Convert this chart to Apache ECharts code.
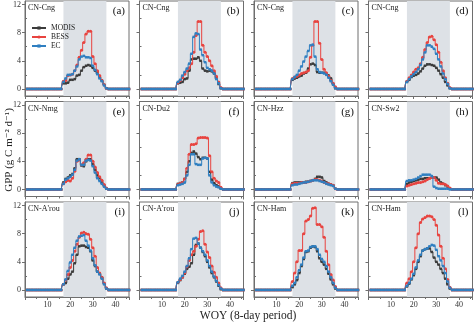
<!DOCTYPE html>
<html>
<head>
<meta charset="utf-8">
<script src="https://cdn.jsdelivr.net/npm/echarts@6/dist/echarts.min.js"></script>
<style>
  html, body { margin: 0; padding: 0; background: #fff; }
  #chart { width: 474px; height: 323px; }
</style>
</head>
<body>
<div id="chart"></div>
<script>
// Week of year (8-day periods)
const weeks = [1,2,3,4,5,6,7,8,9,10,11,12,13,14,15,16,17,18,19,20,21,22,23,24,25,26,27,28,29,30,31,32,33,34,35,36,37,38,39,40,41,42,43,44,45,46];
// Off-season GPP (weeks 1-16 and 37-46)
const offBefore = [0,0,0,0,0,0,0,0,0,0,0,0,0,0,0,0];
const offAfter = [0,0,0,0,0,0,0,0,0,0];
// Growing season window (shaded)
const seasonStart = 17;
const seasonEnd = 36;

const sites = ['CN-Cng','CN-Cng','CN-Cng','CN-Cng','CN-Nmg','CN-Du2','CN-Hzz','CN-Sw2',"CN-A'rou","CN-A'rou",'CN-Ham','CN-Ham'];
const years = ['2007','2008','2009','2010','2004','2008','2014','2011','2014','2015','2002','2003'];
const letters = ['(a)','(b)','(c)','(d)','(e)','(f)','(g)','(h)','(i)','(j)','(k)','(l)'];
const yTicks = [0,4,8,12];
const yMinorTicks = [2,6,10];
const xLabels = [10,20,30,40];

// Growing-season GPP, weeks 17-36
const modisA = [0.8,0.8,0.9,1.3,1.3,1.4,1.9,2.0,2.6,3.1,3.3,3.4,3.3,3.0,2.6,2.2,1.7,1.2,0.6,0.1];
const bessA  = [1.1,1.2,1.9,2.0,2.1,2.6,3.4,4.5,5.5,6.6,7.8,8.2,8.2,4.6,3.6,2.6,1.9,1.2,0.6,0.1];
const ecA    = [1.0,1.5,2.0,2.0,2.1,2.6,3.2,4.2,4.6,4.7,4.5,4.5,4.4,3.3,2.7,2.1,1.5,1.1,0.5,0.1];

const modisB = [0.8,0.9,1.0,1.4,1.5,2.6,4.2,4.3,4.3,4.5,4.0,2.9,2.6,2.5,2.6,2.5,2.2,1.5,0.7,0.1];
const bessB  = [0.9,1.2,1.6,2.1,2.6,3.0,3.6,5.2,7.6,9.6,9.6,6.2,5.2,4.6,4.0,3.3,2.6,1.8,1.0,0.2];
const ecB    = [1.0,1.3,1.9,2.4,2.9,3.6,5.0,7.4,7.9,7.8,5.6,4.8,3.8,3.0,2.8,2.6,2.2,1.4,0.8,0.1];

const modisC = [1.3,1.5,1.6,1.8,1.9,2.2,2.3,2.9,3.5,3.6,3.4,2.4,2.3,2.3,2.3,2.1,1.9,1.5,0.7,0.1];
const bessC  = [1.5,1.7,1.8,2.0,2.2,2.3,2.4,2.6,4.5,6.2,9.6,9.6,6.5,4.2,2.8,2.3,1.8,1.2,0.8,0.3];
const ecC    = [1.4,1.7,2.0,2.6,3.2,3.9,4.6,5.4,6.2,6.3,4.6,2.8,2.4,2.3,2.2,2.0,1.6,1.1,0.6,0.1];

const modisD = [1.0,1.3,1.7,1.9,2.0,2.2,2.5,2.9,3.3,3.5,3.5,3.4,3.3,3.0,2.6,2.1,1.6,1.0,0.5,0.1];
const bessD  = [1.1,1.6,2.0,2.4,2.8,3.0,3.6,4.5,5.6,6.6,7.4,7.5,7.0,6.3,5.2,3.8,2.6,1.6,0.8,0.2];
const ecD    = [1.0,1.4,1.8,2.1,2.4,2.8,3.4,4.2,5.2,6.2,6.2,6.0,5.7,5.0,4.2,3.2,2.2,1.4,0.7,0.1];

const modisE = [1.0,1.5,1.7,2.0,2.2,3.0,4.3,4.3,3.4,3.3,4.0,4.3,4.3,3.6,2.8,2.0,1.6,1.0,0.5,0.1];
const bessE  = [0.8,1.1,1.3,1.2,1.6,2.6,4.0,4.2,3.5,3.8,4.3,4.9,4.9,4.0,3.2,2.4,1.8,1.3,0.7,0.2];
const ecE    = [0.8,1.4,1.6,1.8,2.1,2.8,4.1,4.3,3.5,3.5,4.1,4.2,4.1,3.3,2.4,1.6,1.2,0.8,0.4,0.1];

const modisF = [0.8,0.9,1.0,1.5,2.5,4.0,5.2,5.4,5.1,4.6,4.3,4.5,4.5,4.4,2.5,1.4,0.9,0.6,0.4,0.1];
const bessF  = [0.7,0.9,1.0,1.5,3.0,5.0,6.4,6.4,6.5,7.3,7.4,7.4,7.4,7.3,4.8,2.5,1.6,1.2,1.0,0.3];
const ecF    = [0.6,0.7,0.8,1.0,2.0,3.5,5.0,5.0,3.6,3.5,3.5,4.4,4.5,4.4,2.0,1.0,0.6,0.4,0.3,0.1];

const modisG = [0.9,1.0,1.0,1.0,1.0,1.0,1.1,1.1,1.2,1.3,1.5,1.8,1.8,1.7,1.2,1.0,0.8,0.7,0.6,0.1];
const bessG  = [0.8,0.9,0.9,0.9,1.0,1.0,1.0,1.1,1.2,1.3,1.4,1.4,1.3,1.2,1.0,0.9,0.8,0.7,0.6,0.1];
const ecG    = [0.6,0.7,0.7,0.8,0.9,1.0,1.0,1.1,1.2,1.3,1.3,1.3,1.2,1.1,1.0,0.8,0.7,0.6,0.5,0.1];

const modisH = [0.8,1.0,1.1,1.2,1.3,1.4,1.5,1.5,1.6,1.6,1.6,1.7,1.7,1.7,1.4,1.0,0.8,0.6,0.4,0.1];
const bessH  = [0.5,0.6,0.7,0.8,0.9,1.0,1.0,1.1,1.2,1.4,1.6,1.7,1.7,1.3,0.9,0.8,0.8,0.7,0.5,0.2];
const ecH    = [1.2,1.3,1.3,1.4,1.5,1.7,1.9,2.1,2.1,2.1,2.1,1.9,0.4,0.2,0.1,0.1,0.1,0.1,0.1,0.0];

const modisI = [0.8,1.0,1.6,2.2,2.6,3.8,5.0,6.2,6.3,6.3,6.1,6.0,5.5,4.2,3.4,2.6,2.3,1.8,0.9,0.2];
const bessI  = [0.8,1.4,2.2,3.2,4.2,5.5,6.5,7.5,8.1,8.2,8.0,7.9,7.2,6.0,4.8,3.2,2.4,1.8,1.0,0.3];
const ecI    = [0.8,1.5,2.7,3.9,5.0,6.0,7.0,7.6,7.7,7.8,7.0,6.3,5.6,4.5,3.5,2.6,2.2,1.6,0.8,0.2];

const modisJ = [1.0,1.4,1.8,2.3,3.0,3.3,3.8,5.0,6.4,6.6,6.0,5.4,4.8,4.0,3.2,2.4,1.8,1.2,0.6,0.1];
const bessJ  = [1.1,1.5,1.8,2.4,3.3,4.2,5.0,5.5,6.2,7.2,8.3,8.4,6.5,5.4,4.6,3.4,2.5,1.8,1.0,0.3];
const ecJ    = [1.1,1.6,2.0,2.6,3.4,4.5,5.8,7.3,7.4,6.6,6.0,5.5,5.0,4.2,3.4,2.6,1.9,1.3,0.7,0.2];

const modisK = [0.4,0.8,1.4,2.4,3.4,4.4,5.4,5.5,6.0,6.2,6.1,5.5,4.5,4.0,3.6,3.0,2.3,1.5,0.8,0.2];
const bessK  = [1.2,2.4,4.0,5.6,5.6,8.0,9.8,10.0,10.5,11.6,11.7,9.3,9.3,9.0,7.5,5.5,3.6,2.2,1.4,0.5];
const ecK    = [0.6,1.0,1.8,2.8,3.6,4.6,5.5,5.6,6.1,6.2,6.2,5.8,5.0,4.4,4.0,3.4,2.6,1.8,1.0,0.3];

const modisL = [0.5,0.9,1.5,2.1,3.0,4.0,4.8,5.6,5.8,5.9,5.9,5.4,4.6,4.0,3.6,3.0,2.4,1.6,0.8,0.2];
const bessL  = [1.0,1.6,2.6,4.0,6.0,8.0,9.6,10.1,10.3,10.5,10.5,10.4,10.0,9.2,7.8,6.2,4.5,3.0,1.5,0.4];
const ecL    = [0.6,1.0,1.6,2.3,3.2,4.2,5.0,5.6,5.8,5.9,6.2,6.4,6.3,5.7,4.8,4.2,3.4,2.4,1.2,0.3];

const panels = [
  [modisA, bessA, ecA], [modisB, bessB, ecB], [modisC, bessC, ecC], [modisD, bessD, ecD],
  [modisE, bessE, ecE], [modisF, bessF, ecF], [modisG, bessG, ecG], [modisH, bessH, ecH],
  [modisI, bessI, ecI], [modisJ, bessJ, ecJ], [modisK, bessK, ecK], [modisL, bessL, ecL]
];

const products = ['MODIS', 'BESS', 'EC'];
const colors = ['#3b3b3b', '#e8433f', '#2f7fc1'];
const symbols = ['rect', 'circle', 'rect'];

const serif = '"Liberation Serif", "DejaVu Serif", serif';
const frame = '#6e6e6e';

// Panel layout
const colLeft = [25, 139.5, 254, 368.5];
const rowTop = [1, 101.5, 202];
const panelW = 104;
const panelH = 95;
const yMin = -1, yMax = 12.5;

function fullYear(season) {
  const vals = offBefore.concat(season, offAfter);
  return weeks.map((w, k) => [w, vals[k]]);
}

const grid = [], xAxis = [], yAxis = [], series = [];
panels.forEach((p, i) => {
  const r = Math.floor(i / 4), c = i % 4;
  grid.push({
    left: colLeft[c], top: rowTop[r], width: panelW, height: panelH,
    show: true, borderColor: frame, borderWidth: 1, backgroundColor: 'transparent'
  });
  xAxis.push({
    gridIndex: i, type: 'value', min: 0, max: 46, interval: 10,
    axisLine: { show: true, onZero: false, lineStyle: { color: frame, width: 1 } },
    axisTick: { show: true, length: 3, lineStyle: { color: frame } },
    minorTick: { show: true, splitNumber: 2, length: 2, lineStyle: { color: frame } },
    axisLabel: {
      show: r === 2, customValues: xLabels, fontFamily: serif, fontSize: 8, color: '#333', margin: 4
    },
    splitLine: { show: false }, minorSplitLine: { show: false }
  });
  yAxis.push({
    gridIndex: i, type: 'value', min: yMin, max: yMax,
    axisLine: { show: true, onZero: false, lineStyle: { color: frame, width: 1 } },
    axisTick: { show: true, customValues: yTicks, length: 3, lineStyle: { color: frame } },
    axisLabel: {
      show: c === 0, customValues: yTicks, fontFamily: serif, fontSize: 8, color: '#333', margin: 4
    },
    splitLine: { show: false }
  });
  yAxis.push({
    gridIndex: i, type: 'value', min: yMin, max: yMax,
    axisLine: { show: false },
    axisTick: { show: true, customValues: yMinorTicks, length: 2, lineStyle: { color: frame } },
    axisLabel: { show: false },
    splitLine: { show: false }
  });
  p.forEach((vals, k) => {
    const s = {
      name: products[k], type: 'line', xAxisIndex: i, yAxisIndex: 2 * i,
      data: fullYear(vals), step: 'middle',
      symbol: symbols[k], symbolSize: k === 1 ? 3 : 2.5, showSymbol: true,
      lineStyle: { color: colors[k], width: 1 },
      itemStyle: { color: colors[k] },
      animation: false, silent: true, z: 3 + k
    };
    if (k === 0) {
      s.markArea = {
        silent: true,
        itemStyle: { color: '#dde1e6' },
        data: [[{ xAxis: seasonStart }, { xAxis: seasonEnd }]]
      };
    }
    series.push(s);
  });
});

const chart = echarts.init(document.getElementById('chart'), null, { renderer: 'canvas' });
chart.setOption({
  animation: false,
  backgroundColor: '#fff',
  grid, xAxis, yAxis, series,
  legend: {
    data: products,
    orient: 'vertical', left: 26, top: 19,
    itemWidth: 14, itemHeight: 4, itemGap: 1,
    itemStyle: { borderWidth: 0 },
    textStyle: { fontFamily: serif, fontSize: 7.5, color: '#222', lineHeight: 8 },
    selectedMode: false
  }
});

// Panel annotations: site, panel letter, year
const graphic = [];
panels.forEach((p, i) => {
  const r = Math.floor(i / 4), c = i % 4;
  const L = colLeft[c], T = rowTop[r];
  graphic.push({
    type: 'text', left: L + 3, top: T + 3, silent: true,
    style: { text: sites[i], font: '8px ' + serif, fill: '#222' }
  });
  graphic.push({
    type: 'text', right: 474 - (L + panelW) + 4, top: T + 5, silent: true,
    style: { text: letters[i], font: '11px ' + serif, fill: '#111' }
  });
  const pt = chart.convertToPixel({ gridIndex: i }, [24, -0.35]);
  graphic.push({
    type: 'text', x: pt[0], y: pt[1], silent: true,
    style: { text: years[i], font: '8px ' + serif, fill: '#222', textAlign: 'center', textVerticalAlign: 'middle' }
  });
});
graphic.push({
  type: 'text', x: 9, y: 150, rotation: Math.PI / 2, silent: true,
  style: { text: 'GPP (g C m\u207B\u00B2 d\u207B\u00B9)', font: '11px ' + serif, fill: '#222', textAlign: 'center', textVerticalAlign: 'middle' }
});
graphic.push({
  type: 'text', x: 248, y: 316, silent: true,
  style: { text: 'WOY (8-day period)', font: '11.5px ' + serif, fill: '#222', textAlign: 'center', textVerticalAlign: 'middle' }
});
chart.setOption({ graphic });
</script>
</body>
</html>
